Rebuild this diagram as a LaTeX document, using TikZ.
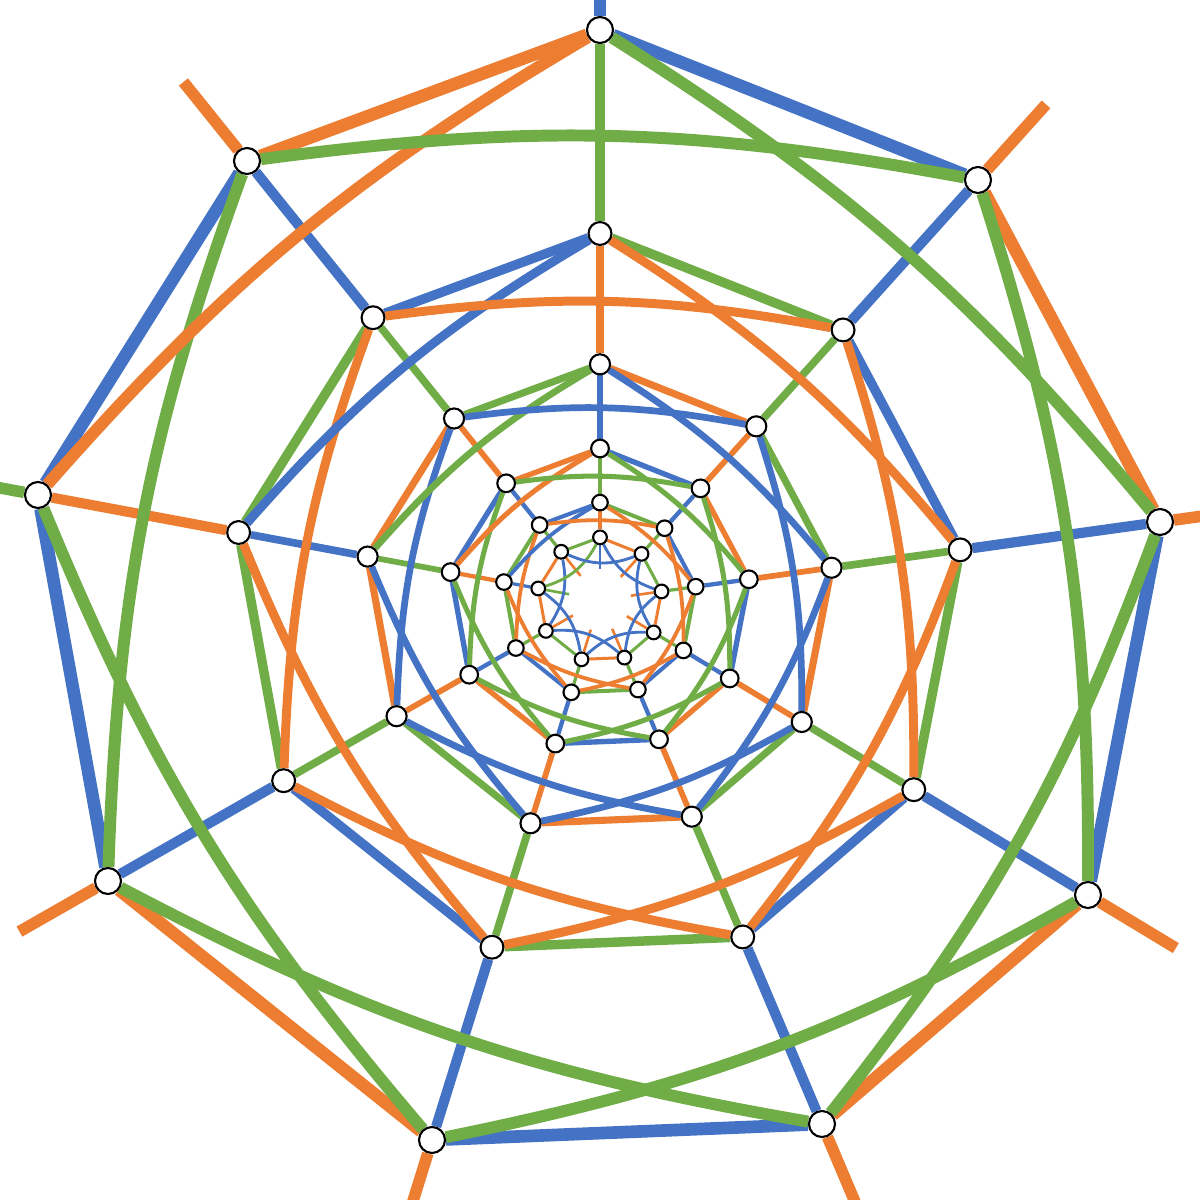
\documentclass[tikz,border=0pt]{standalone}

\definecolor{webblue}{HTML}{4472C4}
\definecolor{webgreen}{HTML}{70AD47}
\definecolor{weborange}{HTML}{ED7D31}
% colour index 0,1,2 -> blue, green, orange; each ring inward shifts it by one
\colorlet{c0}{webblue}
\colorlet{c1}{webgreen}
\colorlet{c2}{weborange}

\pgfdeclarelayer{front}
\pgfsetlayers{main,front}

\begin{document}
\begin{tikzpicture}
   \tikzset{vnode/.style = {circle, draw=black, fill=white, line width=0.6pt, inner sep=0pt}, }
   \tikzset{wire/.style = {line cap=butt, line join=round}, }
   \clip (-6,-6) rectangle (6,6);
   \fill[white] (-6,-6) rectangle (6,6);

   % the nine vertices of every ring
   \begin{pgfonlayer}{front}
   \foreach \k in {0,...,5}{
     \pgfmathsetmacro\sc{0.643^\k}
     \pgfmathsetmacro\ds{0.26*0.88^\k}
     \foreach \j/\x/\y in {0/0/5.70, 1/3.78/4.20, 2/5.60/0.78, 3/4.88/-2.95, 4/2.22/-5.24,
                           5/-1.68/-5.40, 6/-4.92/-2.81, 7/-5.62/1.05, 8/-3.53/4.39}
       \node[vnode, minimum size=\ds cm] (n\k-\j) at (\x*\sc, \y*\sc) {};
   }
   \end{pgfonlayer}

   % loose ends, outside and in the middle
   \foreach \j/\x/\y in {0/0/5.70, 1/3.78/4.20, 2/5.60/0.78, 3/4.88/-2.95, 4/2.22/-5.24,
                         5/-1.68/-5.40, 6/-4.92/-2.81, 7/-5.62/1.05, 8/-3.53/4.39}{
     \coordinate (out\j) at (1.18*\x, 1.18*\y);
     \coordinate (in\j) at (0.055*\x, 0.055*\y);
   }

   % spokes from ring to ring
   \foreach \j/\r in {0/1, 1/0, 2/0, 3/0, 4/0, 5/0, 6/0, 7/2, 8/0}{
     \pgfmathtruncatemacro\co{mod(\r+2,3)}
     \draw[wire, c\co, line width=3.3pt] (n0-\j) -- (out\j);
     \foreach \k in {0,...,4}{
       \pgfmathtruncatemacro\kk{\k+1}
       \pgfmathtruncatemacro\cr{mod(\r+\k,3)}
       \pgfmathsetmacro\lw{3.45*0.75^(\k+0.6)}
       \draw[wire, c\cr, line width=\lw pt] (n\k-\j) -- (n\kk-\j);
     }
     \pgfmathtruncatemacro\ci{mod(\r+2,3)}
     \draw[wire, c\ci, line width=0.75pt] (n5-\j) -- (in\j);
   }

   % sides of each ring
   \foreach \k in {0,...,5}{
     \pgfmathsetmacro\lw{3.6*0.75^\k}
     \foreach \j/\e in {0/0, 1/2, 2/0, 3/2, 4/0, 5/2, 6/0, 7/0, 8/2}{
       \pgfmathtruncatemacro\jn{mod(\j+1,9)}
       \pgfmathtruncatemacro\ce{mod(\e+\k,3)}
       \draw[wire, c\ce, line width=\lw pt] (n\k-\j) -- (n\k-\jn);
     }
   }

   % chords skipping one vertex
   \foreach \k in {0,...,5}{
     \pgfmathsetmacro\lw{3.4*0.75^\k}
     \pgfmathsetmacro\bnd{\k<5 ? 9 : -22}
     \foreach \j/\s in {0/1, 1/1, 2/1, 3/1, 4/1, 5/1, 6/1, 7/2, 8/1}{
       \pgfmathtruncatemacro\js{mod(\j+2,9)}
       \pgfmathtruncatemacro\cs{mod(\s+\k,3)}
       \draw[wire, c\cs, line width=\lw pt] (n\k-\j) to[bend left=\bnd] (n\k-\js);
     }
   }
\end{tikzpicture}
\end{document}
